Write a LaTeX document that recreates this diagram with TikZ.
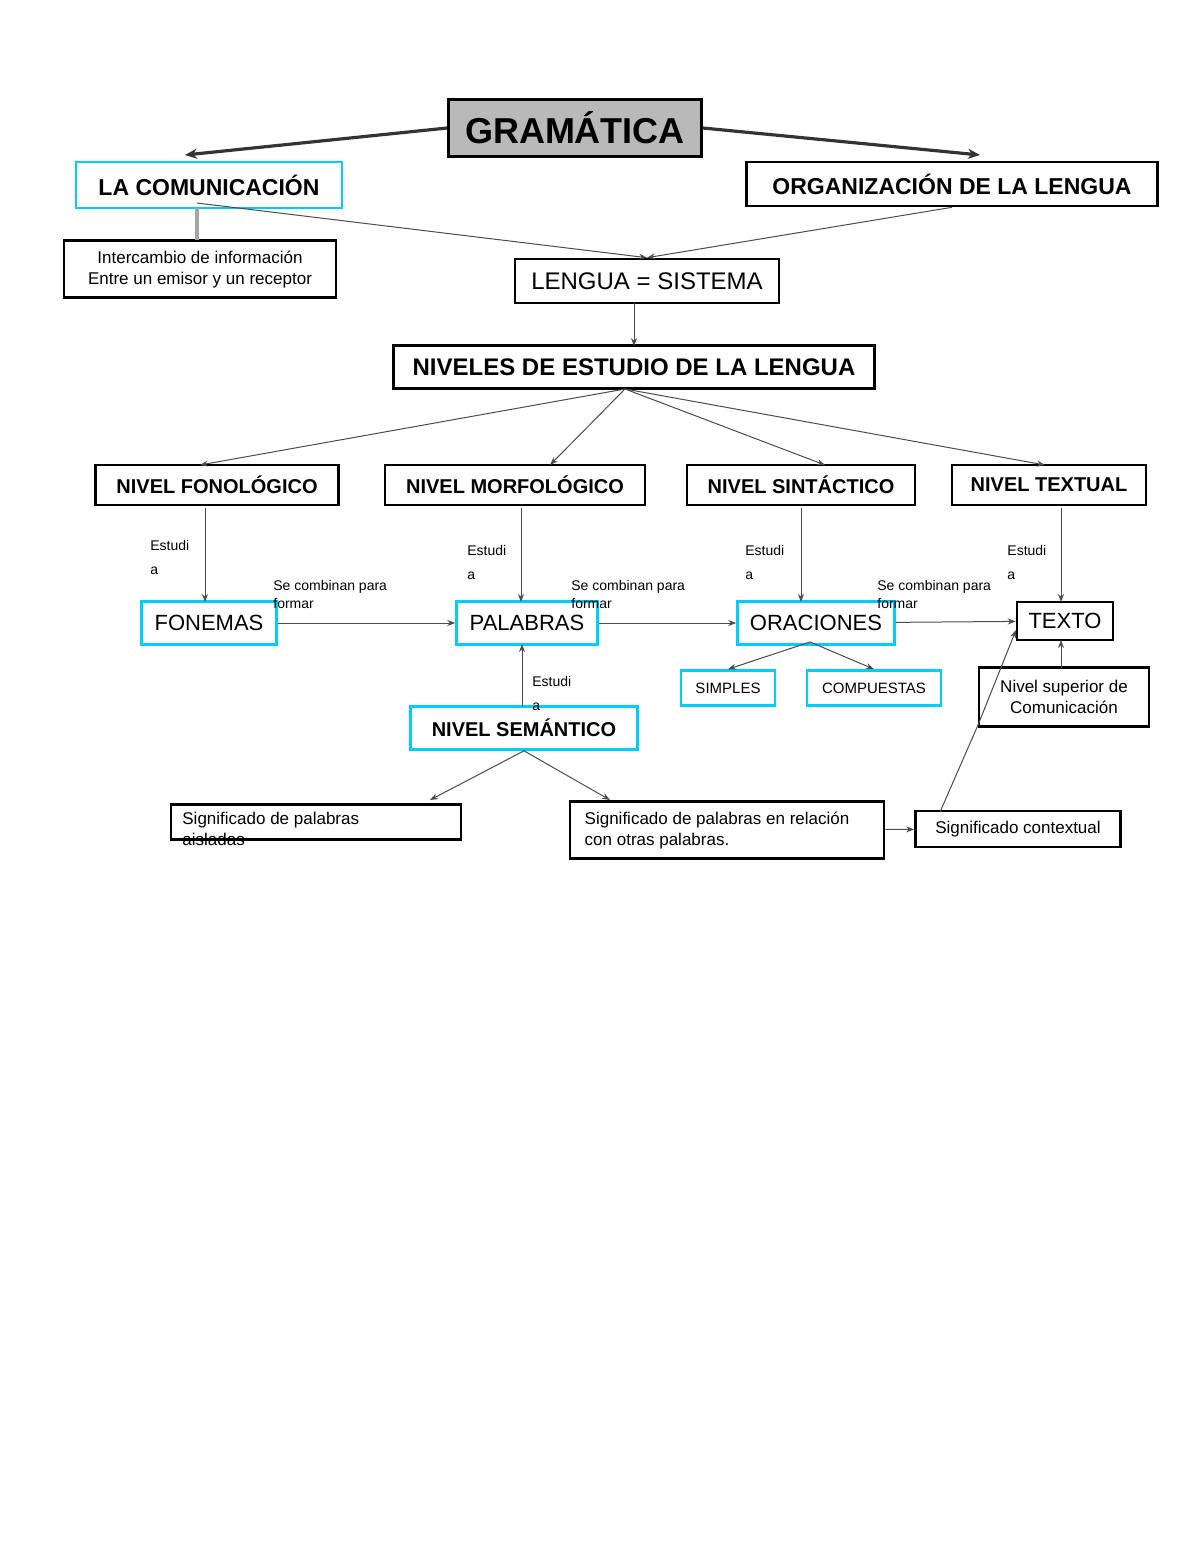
\documentclass[tikz,border=0pt]{standalone}
\usepackage{fontspec}
\setmainfont{Liberation Sans}
\usetikzlibrary{arrows.meta}
\definecolor{skyline}{RGB}{0,204,255}

\begin{document}
\begin{tikzpicture}[x=0.5pt,y=-0.5pt,
  sz/.style 2 args={minimum width=#1*0.5pt,minimum height=#2*0.5pt},
  box/.style={draw,line width=1.3pt,inner sep=0pt,font=\fontsize{11.5}{13}\selectfont\bfseries},
  cbox/.style={draw=skyline,line width=1.3pt,inner sep=0pt},
  txt/.style={font=\fontsize{8.5}{10.5}\selectfont,align=center},
  lbl/.style={font=\fontsize{7}{9}\selectfont,align=left,anchor=north west,inner sep=0pt},
  arr/.style={-{Stealth[length=4pt,width=3pt]},gray!60!black,line width=0.5pt},
  big/.style={-{Stealth[length=6pt,width=5pt]},line width=1.6pt,gray!40!black}]
\useasboundingbox (0,0) rectangle (1200,1553);

\node[box,fill=gray!55,font=\fontsize{18}{20}\selectfont\bfseries,sz={253}{57}] (gram) at (575,128) {GRAMÁTICA};
\node[box,cbox,sz={266}{46}] (comu) at (209,185) {LA COMUNICACIÓN};
\node[box,sz={411}{44}] (orga) at (952,184) {ORGANIZACIÓN DE LA LENGUA};
\node[draw,line width=1.3pt,txt,inner sep=0pt,sz={272}{57}] (inter) at (200,269) {Intercambio de información\\Entre un emisor y un receptor};
\node[draw,line width=1.3pt,inner sep=0pt,font=\fontsize{12}{14}\selectfont,sz={264}{44}] (leng) at (647,281) {LENGUA = SISTEMA};
\node[box,font=\fontsize{12}{14}\selectfont\bfseries,sz={481}{43}] (nive) at (634,367) {NIVELES DE ESTUDIO DE LA LENGUA};

\node[box,font=\fontsize{10}{12}\selectfont\bfseries,sz={243}{40}] (fono) at (217,485) {NIVEL FONOLÓGICO};
\node[box,font=\fontsize{10}{12}\selectfont\bfseries,sz={260}{40}] (morf) at (515,485) {NIVEL MORFOLÓGICO};
\node[box,font=\fontsize{10}{12}\selectfont\bfseries,sz={228}{40}] (sint) at (801,485) {NIVEL SINTÁCTICO};
\node[box,font=\fontsize{10}{12}\selectfont\bfseries,sz={194}{40}] (text) at (1049,485) {NIVEL TEXTUAL};

\node[cbox,font=\fontsize{11}{13}\selectfont,sz={135}{43}] (fone) at (209,623) {FONEMAS};
\node[cbox,font=\fontsize{11}{13}\selectfont,sz={141}{43}] (pala) at (527,623) {PALABRAS};
\node[cbox,font=\fontsize{11}{13}\selectfont,sz={157}{43}] (orac) at (816,623) {ORACIONES};
\node[draw,line width=1.3pt,inner sep=0pt,font=\fontsize{11}{13}\selectfont,sz={96}{38}] (txto) at (1065,621) {TEXTO};
\node[cbox,font=\fontsize{7.5}{9}\selectfont,sz={94}{35}] (simp) at (728,688) {SIMPLES};
\node[cbox,font=\fontsize{7.5}{9}\selectfont,sz={134}{35}] (comp) at (874,688) {COMPUESTAS};
\node[draw,line width=1.3pt,txt,inner sep=0pt,sz={170}{59}] (supe) at (1064,697) {Nivel superior de\\Comunicación};
\node[box,cbox,font=\fontsize{10}{12}\selectfont\bfseries,sz={227}{43}] (sema) at (524,728) {NIVEL SEMÁNTICO};

\node[draw,line width=1.3pt,inner sep=0pt,sz={290}{35}] (aisl) at (316,822) {};
\node[txt,align=left,anchor=north west,inner sep=0pt] (aislt) at (182,812) {Significado de palabras\\aisladas};
\node[draw,line width=1.3pt,txt,align=left,inner sep=0pt,sz={314}{57}] (rela) at (727,830) {Significado de palabras en relación\\con otras palabras.\hspace*{70pt}};
\node[draw,line width=1.3pt,txt,inner sep=0pt,sz={205}{36}] (cont) at (1018,829) {Significado contextual};

% connectors
\coordinate (cl) at (185,155);
\coordinate (cr) at (980,155);
\draw[big] (gram.west) -- (cl);
\draw[big] (gram.east) -- (cr);
\draw[line width=2pt,gray!70] (197,208) -- (197,240);
\draw[arr] (197,203) -- (leng.north);
\draw[arr] (orga.south) -- (leng.north);
\draw[arr] (634,303) -- (634,346);
\coordinate (nb) at (625,389);
\draw[arr] (nb) -- (200,465);
\draw[arr] (nb) -- (550,465);
\draw[arr] (nb) -- (825,465);
\draw[arr] (nb) -- (1045,465);
\draw[arr] (205,508) -- (205,602);
\draw[arr] (521,508) -- (521,602);
\draw[arr] (801,508) -- (801,602);
\draw[arr] (1061,508) -- (1061,602);
\foreach \x/\y in {150/540,467/545,745/545,1007/545,532/676}
  \node[lbl] at (\x,\y) {Estudi\\[3pt]a};
\draw[arr] (fone) -- (pala);
\draw[arr] (pala) -- (orac);
\draw[arr] (orac) -- (txto);
\foreach \x in {273,571,877}
  \node[lbl] at (\x,580) {Se combinan para\\formar};
\draw[arr] (810,642) -- (simp.north);
\draw[arr] (810,642) -- (comp.north);
\draw[arr] (1061,668) -- (1061,640);
\draw[arr] (522,707) -- (522,644);
\draw[arr] (sema.south) -- (430,800);
\draw[arr] (sema.south) -- (610,800);
\draw[arr] (rela) -- (cont);
\draw[arr] (940,812) -- (978,725) -- (1016,630);
\end{tikzpicture}
\end{document}
